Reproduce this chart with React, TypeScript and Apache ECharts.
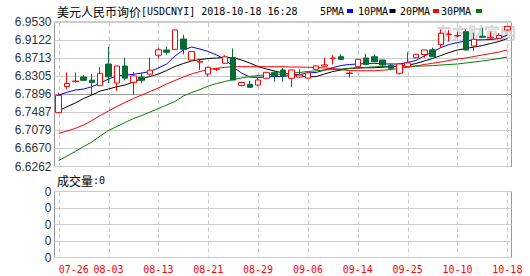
import React, { useEffect, useRef } from 'react';
import * as echarts from 'echarts';

const dates = ['07-26','07-27','07-30','07-31','08-01','08-02','08-03','08-06','08-07','08-08','08-09','08-10','08-13','08-14','08-15','08-16','08-17','08-20','08-21','08-22','08-23','08-24','08-27','08-28','08-29','08-30','08-31','09-03','09-04','09-05','09-06','09-07','09-10','09-11','09-12','09-13','09-14','09-17','09-18','09-19','09-20','09-21','09-25','09-26','09-27','09-28','10-08','10-09','10-10','10-11','10-12','10-15','10-16','10-17','10-18'];

const opens = [6.7480,6.8070,6.8180,6.8286,6.8215,6.8090,6.8580,6.8150,6.8535,6.8160,6.8286,6.8350,6.8780,6.8897,6.8910,6.9145,6.8670,6.8620,6.8354,6.8460,6.8596,6.8727,6.8095,6.8120,6.8105,6.8257,6.8392,6.8444,6.8257,6.8286,6.8260,6.8460,6.8530,6.8700,6.8745,6.8365,6.8520,6.8716,6.8745,6.8670,6.8546,6.8370,6.8520,6.8722,6.8795,6.8903,6.9021,6.9245,6.9215,6.9311,6.8987,6.9208,6.9170,6.9157,6.9350];
const closes = [6.7870,6.8140,6.8195,6.8211,6.8160,6.8370,6.8290,6.8535,6.8260,6.8310,6.8211,6.8440,6.8900,6.8845,6.9350,6.8912,6.8860,6.8641,6.8505,6.8470,6.8745,6.8218,6.8160,6.8053,6.8218,6.8392,6.8315,6.8309,6.8444,6.8331,6.8380,6.8535,6.8560,6.8715,6.8686,6.8375,6.8686,6.8570,6.8632,6.8557,6.8483,6.8580,6.8603,6.8800,6.8897,6.8745,6.9274,6.9255,6.9225,6.8897,6.9139,6.9185,6.9185,6.9225,6.9430];
const lows = [6.7470,6.8010,6.8160,6.8195,6.7880,6.8080,6.8150,6.7970,6.8210,6.7890,6.8140,6.8320,6.8710,6.8790,6.8900,6.8800,6.8660,6.8444,6.8293,6.8420,6.8590,6.8210,6.8070,6.8050,6.8070,6.8250,6.8180,6.8180,6.8060,6.8260,6.8250,6.8440,6.8520,6.8570,6.8670,6.8270,6.8510,6.8550,6.8620,6.8505,6.8440,6.8340,6.8500,6.8710,6.8722,6.8740,6.8958,6.9085,6.9185,6.8890,6.8874,6.9170,6.9150,6.9150,6.9340];
const highs = [6.7930,6.8390,6.8390,6.8331,6.8360,6.8510,6.8970,6.8540,6.8720,6.8400,6.8390,6.8720,6.8950,6.8970,6.9360,6.9240,6.8870,6.8670,6.8520,6.8490,6.8780,6.8931,6.8180,6.8195,6.8290,6.8400,6.8430,6.8490,6.8450,6.8460,6.8400,6.8550,6.8720,6.8780,6.8800,6.8410,6.8690,6.8810,6.8800,6.8680,6.8590,6.8600,6.8845,6.8810,6.8900,6.8949,6.9360,6.9349,6.9310,6.9360,6.9288,6.9401,6.9310,6.9274,6.9440];

const ma5 = [6.7879,6.7940,6.7992,6.8014,6.8066,6.8143,6.8241,6.8309,6.8331,6.8347,6.8376,6.8410,6.8489,6.8580,6.8761,6.8897,6.8964,6.8919,6.8863,6.8784,6.8693,6.8512,6.8376,6.8286,6.8275,6.8286,6.8297,6.8297,6.8331,6.8342,6.8376,6.8388,6.8444,6.8501,6.8546,6.8569,6.8580,6.8591,6.8596,6.8584,6.8580,6.8580,6.8614,6.8659,6.8761,6.8851,6.8953,6.9021,6.9066,6.9100,6.9123,6.9127,6.9134,6.9157,6.9236];
const ma10 = [6.7524,6.7614,6.7698,6.7800,6.7879,6.7969,6.8014,6.8066,6.8105,6.8173,6.8252,6.8297,6.8354,6.8433,6.8523,6.8591,6.8648,6.8682,6.8704,6.8716,6.8727,6.8727,6.8670,6.8603,6.8523,6.8467,6.8422,6.8376,6.8342,6.8320,6.8286,6.8297,6.8354,6.8410,6.8444,6.8478,6.8489,6.8494,6.8496,6.8507,6.8519,6.8535,6.8553,6.8591,6.8648,6.8704,6.8772,6.8840,6.8897,6.8931,6.8964,6.8998,6.9044,6.9089,6.9157];
const ma20 = [6.7012,6.7064,6.7125,6.7200,6.7302,6.7415,6.7517,6.7619,6.7709,6.7800,6.7879,6.7958,6.8037,6.8128,6.8207,6.8286,6.8354,6.8410,6.8456,6.8483,6.8505,6.8519,6.8519,6.8519,6.8519,6.8519,6.8519,6.8519,6.8512,6.8512,6.8505,6.8501,6.8489,6.8478,6.8456,6.8433,6.8428,6.8428,6.8428,6.8440,6.8456,6.8478,6.8507,6.8535,6.8569,6.8596,6.8625,6.8659,6.8693,6.8716,6.8750,6.8784,6.8817,6.8851,6.8897];
const ma30 = [6.6397,6.6499,6.6601,6.6714,6.6816,6.6951,6.7076,6.7166,6.7257,6.7347,6.7415,6.7494,6.7573,6.7653,6.7732,6.7856,6.7935,6.8003,6.8082,6.8139,6.8184,6.8229,6.8263,6.8297,6.8320,6.8336,6.8347,6.8354,6.8370,6.8388,6.8410,6.8426,6.8444,6.8456,6.8467,6.8483,6.8494,6.8505,6.8517,6.8523,6.8528,6.8530,6.8530,6.8530,6.8535,6.8544,6.8557,6.8569,6.8580,6.8603,6.8625,6.8648,6.8675,6.8704,6.8738];

const tickDates = ['07-26','08-03','08-13','08-21','08-29','09-06','09-14','09-25','10-10','10-18'];
const priceTicks = ['6.6262','6.6670','6.7079','6.7487','6.7896','6.8305','6.8713','6.9122','6.9530'];
const volumeTicks = ['0','0','0','0','0'];

const PMIN = 6.6262;
const PMAX = 6.9530;
const PSTEP = (PMAX - PMIN) / 8;
const VMIN = 0;
const VMAX = 4;

const RED = '#ff0000';
const GREEN = '#0a6b35';
const GRID_LEFT = 54.5;
const GRID_WIDTH = 457;

function dashedGuides(axisIndex: number, yRef: number) {
  return {
    type: 'custom',
    xAxisIndex: axisIndex,
    yAxisIndex: axisIndex,
    z: 2,
    silent: true,
    data: tickDates.map((d) => [dates.indexOf(d)]),
    encode: { x: 0 },
    renderItem: (params: any, api: any) => {
      const cs = params.coordSys;
      const p = api.coord([api.value(0), yRef]);
      const x = Math.round(p[0]) + 0.5;
      const top = cs.y + 1;
      const bottom = cs.y + cs.height - 1;
      const children: any[] = [];
      for (let y = top; y < bottom; y += 7) {
        children.push({
          type: 'line',
          shape: { x1: x, y1: y, x2: x, y2: Math.min(y + 4, bottom) },
          style: { stroke: '#c8c8c8', lineWidth: 1 },
        });
      }
      return { type: 'group', children };
    },
  };
}

function buildOption(): any {
  const kdata = dates.map((_, i) => [opens[i], closes[i], lows[i], highs[i]]);
  const maLine = (name: string, data: number[], color: string) => ({
    name,
    type: 'line',
    xAxisIndex: 0,
    yAxisIndex: 0,
    data,
    showSymbol: false,
    symbol: 'none',
    smooth: false,
    lineStyle: { color, width: 1 },
    itemStyle: { color },
    z: 3,
    silent: true,
  });
  const splitColors = priceTicks.map((_, i) => (i === 4 ? '#999999' : '#cccccc'));
  const monoText = 'DejaVu Sans Mono';
  const cjk = 'Noto Sans CJK SC';
  const legendItems = [
    { label: '5PMA', x: 320, rx: 347, color: '#0000ff' },
    { label: '10PMA', x: 358, rx: 389.5, color: '#000000' },
    { label: '20PMA', x: 400, rx: 433, color: RED },
    { label: '30PMA', x: 441, rx: 476, color: '#008000' },
  ];
  const graphics: any[] = [
    {
      id: 'title',
      type: 'text',
      x: 57,
      y: 11,
      style: {
        text: '{a|美元人民币询价}{b|[USDCNYI] 2018-10-18 16:28}',
        verticalAlign: 'middle',
        textVerticalAlign: 'middle',
        rich: {
          a: { fontFamily: cjk, fontSize: 12, fill: '#000' },
          b: { fontFamily: monoText, fontSize: 10, fill: '#000' },
        },
      },
    },
    {
      id: 'vol',
      type: 'text',
      x: 57,
      y: 180,
      style: {
        text: '{a|成交量}{b|:0}',
        verticalAlign: 'middle',
        textVerticalAlign: 'middle',
        rich: {
          a: { fontFamily: cjk, fontSize: 12, fill: '#000' },
          b: { fontFamily: monoText, fontSize: 10, fill: '#000' },
        },
      },
    },
    {
      id: 'wm',
      type: 'text',
      x: 436,
      y: 32,
      style: {
        text: '东方财富网',
        fill: '#d4d4d4',
        font: 'bold 16px "Noto Sans CJK SC"',
        verticalAlign: 'middle',
        textVerticalAlign: 'middle',
      },
    },
  ];
  legendItems.forEach((it, k) => {
    graphics.push({
      id: 'lt' + k,
      type: 'text',
      x: it.x,
      y: 11,
      style: {
        text: it.label,
        fill: '#000',
        font: '10px "DejaVu Sans Mono"',
        verticalAlign: 'middle',
        textVerticalAlign: 'middle',
      },
    });
    graphics.push({
      id: 'lr' + k,
      type: 'rect',
      shape: { x: it.rx, y: 9, width: 6, height: 4 },
      style: { fill: it.color },
    });
  });

  return {
    animation: false,
    graphic: graphics,
    grid: [
      { left: GRID_LEFT, top: 22, width: GRID_WIDTH, height: 144.5, show: true, borderColor: '#999999', borderWidth: 1 },
      { left: GRID_LEFT, top: 191.5, width: GRID_WIDTH, height: 66, show: true, borderColor: '#999999', borderWidth: 1 },
    ],
    xAxis: [
      {
        type: 'category',
        gridIndex: 0,
        data: dates,
        boundaryGap: true,
        axisLine: { show: false },
        axisTick: { show: false },
        axisLabel: { show: false },
        splitLine: { show: false },
      },
      {
        type: 'category',
        gridIndex: 1,
        data: dates,
        boundaryGap: true,
        axisLine: { show: false },
        axisTick: { show: false },
        splitLine: { show: false },
        axisLabel: {
          show: true,
          interval: (_idx: number, val: string) => tickDates.indexOf(val) >= 0,
          color: RED,
          fontFamily: monoText,
          fontSize: 10,
          margin: 7,
          alignMinLabel: 'left',
        },
      },
    ],
    yAxis: [
      {
        type: 'value',
        gridIndex: 0,
        min: PMIN,
        max: PMAX,
        interval: PSTEP,
        axisLine: { show: false },
        axisTick: { show: false },
        axisLabel: {
          color: '#333333',
          fontFamily: 'Liberation Sans',
          fontSize: 12,
          margin: 3,
          formatter: (v: number) => priceTicks[Math.round((v - PMIN) / PSTEP)] ?? '',
        },
        splitLine: { show: true, lineStyle: { color: splitColors, width: 1 } },
      },
      {
        type: 'value',
        gridIndex: 1,
        min: VMIN,
        max: VMAX,
        interval: 1,
        axisLine: { show: false },
        axisTick: { show: false },
        axisLabel: {
          color: '#333333',
          fontFamily: 'Liberation Sans',
          fontSize: 12,
          margin: 3,
          formatter: (v: number) => volumeTicks[Math.round(v)] ?? '0',
        },
        splitLine: { show: true, lineStyle: { color: '#cccccc', width: 1 } },
      },
    ],
    series: [
      dashedGuides(0, PMIN),
      dashedGuides(1, VMIN),
      maLine('5PMA', ma5, '#0000ff'),
      maLine('10PMA', ma10, '#000000'),
      maLine('20PMA', ma20, RED),
      maLine('30PMA', ma30, '#008000'),
      {
        type: 'candlestick',
        xAxisIndex: 0,
        yAxisIndex: 0,
        data: kdata,
        barWidth: 6,
        z: 4,
        silent: true,
        itemStyle: {
          color: '#ffffff',
          color0: GREEN,
          borderColor: RED,
          borderColor0: GREEN,
          borderWidth: 1,
        },
      },
    ],
  };
}

export default function App() {
  const ref = useRef<HTMLDivElement>(null);
  useEffect(() => {
    if (!ref.current) return;
    const chart = echarts.init(ref.current, null, { renderer: 'svg' });
    chart.setOption(buildOption());
    return () => {
      chart.dispose();
    };
  }, []);
  return (
    <div
      ref={ref}
      style={{ position: 'absolute', left: 0, top: 0, width: 530, height: 276, background: '#fff' }}
    />
  );
}
